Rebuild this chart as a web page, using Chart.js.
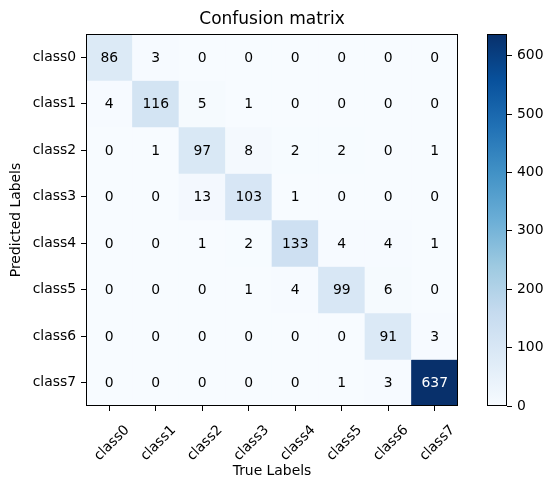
<!DOCTYPE html>
<html>

<head>
  <title>Confusion matrix</title>
  <script src="https://cdn.jsdelivr.net/npm/chart.js"></script>
  <style>
    body { margin: 0; background: #fff; }
    #wrap { position: relative; width: 550px; height: 487px; }
    #wrap canvas { position: absolute; left: 0; top: 0; }
  </style>
</head>

<body>
  <div id="wrap">
    <canvas id="matrixChart" width="550" height="487"></canvas>
    <canvas id="barChart" width="550" height="487"></canvas>
  </div>

  <script>
    // labels for both axes
    const classes = ['class0', 'class1', 'class2', 'class3', 'class4', 'class5', 'class6', 'class7'];

    // rows = predicted label, columns = true label
    const counts = [
      [86, 3, 0, 0, 0, 0, 0, 0],
      [4, 116, 5, 1, 0, 0, 0, 0],
      [0, 1, 97, 8, 2, 2, 0, 1],
      [0, 0, 13, 103, 1, 0, 0, 0],
      [0, 0, 1, 2, 133, 4, 4, 1],
      [0, 0, 0, 1, 4, 99, 6, 0],
      [0, 0, 0, 0, 0, 0, 91, 3],
      [0, 0, 0, 0, 0, 1, 3, 637],
    ];

    const colorbarTicks = [0, 100, 200, 300, 400, 500, 600];

    const vmax = Math.max(...counts.flat());

    // matplotlib "Blues"
    const bluesStops = [
      [247, 251, 255], [222, 235, 247], [198, 219, 239], [158, 202, 225], [107, 174, 214],
      [66, 146, 198], [33, 113, 181], [8, 81, 156], [8, 48, 107]
    ];

    function blues(t) {
      t = Math.min(1, Math.max(0, t));
      const pos = t * (bluesStops.length - 1);
      const i = Math.min(bluesStops.length - 2, Math.floor(pos));
      const f = pos - i;
      const a = bluesStops[i], b = bluesStops[i + 1];
      const c = a.map((v, k) => Math.round(v + (b[k] - v) * f));
      return 'rgb(' + c.join(',') + ')';
    }

    Chart.defaults.font.family = 'DejaVu Sans';
    Chart.defaults.color = '#000';

    const FONT = 13.9;

    const framePlugin = {
      id: 'frame',
      afterDraw(chart) {
        const { ctx, chartArea: a } = chart;
        ctx.save();
        ctx.strokeStyle = '#000';
        ctx.lineWidth = 1;
        ctx.strokeRect(Math.round(a.left) + 0.5, Math.round(a.top) + 0.5,
          Math.round(a.right - a.left) - 1, Math.round(a.bottom - a.top) - 1);
        ctx.restore();
      }
    };

    // numbers inside the cells
    const cellText = {
      id: 'cellText',
      afterDatasetsDraw(chart) {
        const ctx = chart.ctx;
        ctx.save();
        ctx.font = FONT + 'px "DejaVu Sans"';
        ctx.textAlign = 'center';
        ctx.textBaseline = 'middle';
        chart.data.datasets.forEach((ds, i) => {
          chart.getDatasetMeta(i).data.forEach((bar, j) => {
            const v = counts[i][j];
            const p = bar.getCenterPoint();
            ctx.fillStyle = v > vmax / 2 ? '#fff' : '#000';
            ctx.fillText(String(v), p.x, p.y + 1);
          });
        });
        ctx.restore();
      }
    };

    const tickGrid = {
      drawOnChartArea: false,
      drawTicks: true,
      tickLength: 5,
      color: '#000',
      lineWidth: 1,
    };

    const matrixCtx = document.getElementById('matrixChart').getContext('2d');
    const matrixChart = new Chart(matrixCtx, {
      type: 'bar',
      data: {
        labels: classes,
        datasets: counts.map((row, i) => ({
          label: classes[i],
          data: row.map(() => [i - 0.5, i + 0.5]),
          backgroundColor: row.map(v => blues(v / vmax)),
          borderWidth: 0,
          grouped: false,
          barPercentage: 1,
          categoryPercentage: 1,
        })),
      },
      options: {
        responsive: false,
        animation: false,
        events: [],
        layout: { padding: { top: 0, left: 0, right: 6, bottom: 0 } },
        plugins: {
          legend: { display: false },
          tooltip: { enabled: false },
          title: {
            display: true,
            text: 'Confusion matrix',
            color: '#000',
            font: { size: 17, weight: 'normal' },
            padding: { top: 9, bottom: 4.6 },
          },
        },
        scales: {
          x: {
            type: 'category',
            offset: true,
            grid: Object.assign({ offset: false }, tickGrid),
            border: { display: false },
            ticks: {
              font: { size: FONT },
              minRotation: 45,
              maxRotation: 45,
              labelOffset: 18,
              padding: 11,
            },
            title: {
              display: true,
              text: 'True Labels',
              font: { size: FONT },
              padding: { top: 0, bottom: 7 },
            },
            afterFit(scale) { scale.height = 81; },
          },
          y: {
            type: 'linear',
            min: -0.5,
            max: 7.5,
            reverse: true,
            grid: tickGrid,
            border: { display: false },
            afterBuildTicks(scale) {
              scale.ticks = classes.map((c, i) => ({ value: i }));
            },
            ticks: {
              font: { size: FONT },
              padding: 5,
              callback: (value) => classes[value],
            },
            title: {
              display: true,
              text: 'Predicted Labels',
              font: { size: FONT },
              padding: { top: 8, bottom: 0 },
            },
            afterFit(scale) { scale.width = 86; },
          },
          // empty room on the right for the colour bar
          space: {
            type: 'linear',
            position: 'right',
            grid: { display: false },
            border: { display: false },
            ticks: { display: false },
            afterFit(scale) { scale.width = 86; },
          },
        },
      },
      plugins: [cellText, framePlugin],
    });

    // colour bar
    const barCtx = document.getElementById('barChart').getContext('2d');
    const barChart = new Chart(barCtx, {
      type: 'bar',
      data: {
        labels: [''],
        datasets: [{
          data: [[0, vmax]],
          backgroundColor(context) {
            const area = context.chart.chartArea;
            if (!area) return blues(0.5);
            const g = context.chart.ctx.createLinearGradient(0, area.bottom, 0, area.top);
            bluesStops.forEach((c, k) => g.addColorStop(k / (bluesStops.length - 1), 'rgb(' + c.join(',') + ')'));
            return g;
          },
          borderWidth: 0,
          barPercentage: 1,
          categoryPercentage: 1,
        }],
      },
      options: {
        responsive: false,
        animation: false,
        events: [],
        layout: { padding: { top: 34, left: 487, right: 0, bottom: 81 } },
        plugins: {
          legend: { display: false },
          tooltip: { enabled: false },
        },
        scales: {
          x: { display: false },
          y: {
            position: 'right',
            min: 0,
            max: vmax,
            grid: tickGrid,
            border: { display: false },
            afterBuildTicks(scale) {
              scale.ticks = colorbarTicks.map(v => ({ value: v }));
            },
            ticks: { font: { size: FONT }, padding: 5 },
            afterFit(scale) { scale.width = 43; },
          },
        },
      },
      plugins: [framePlugin],
    });
  </script>
</body>

</html>
